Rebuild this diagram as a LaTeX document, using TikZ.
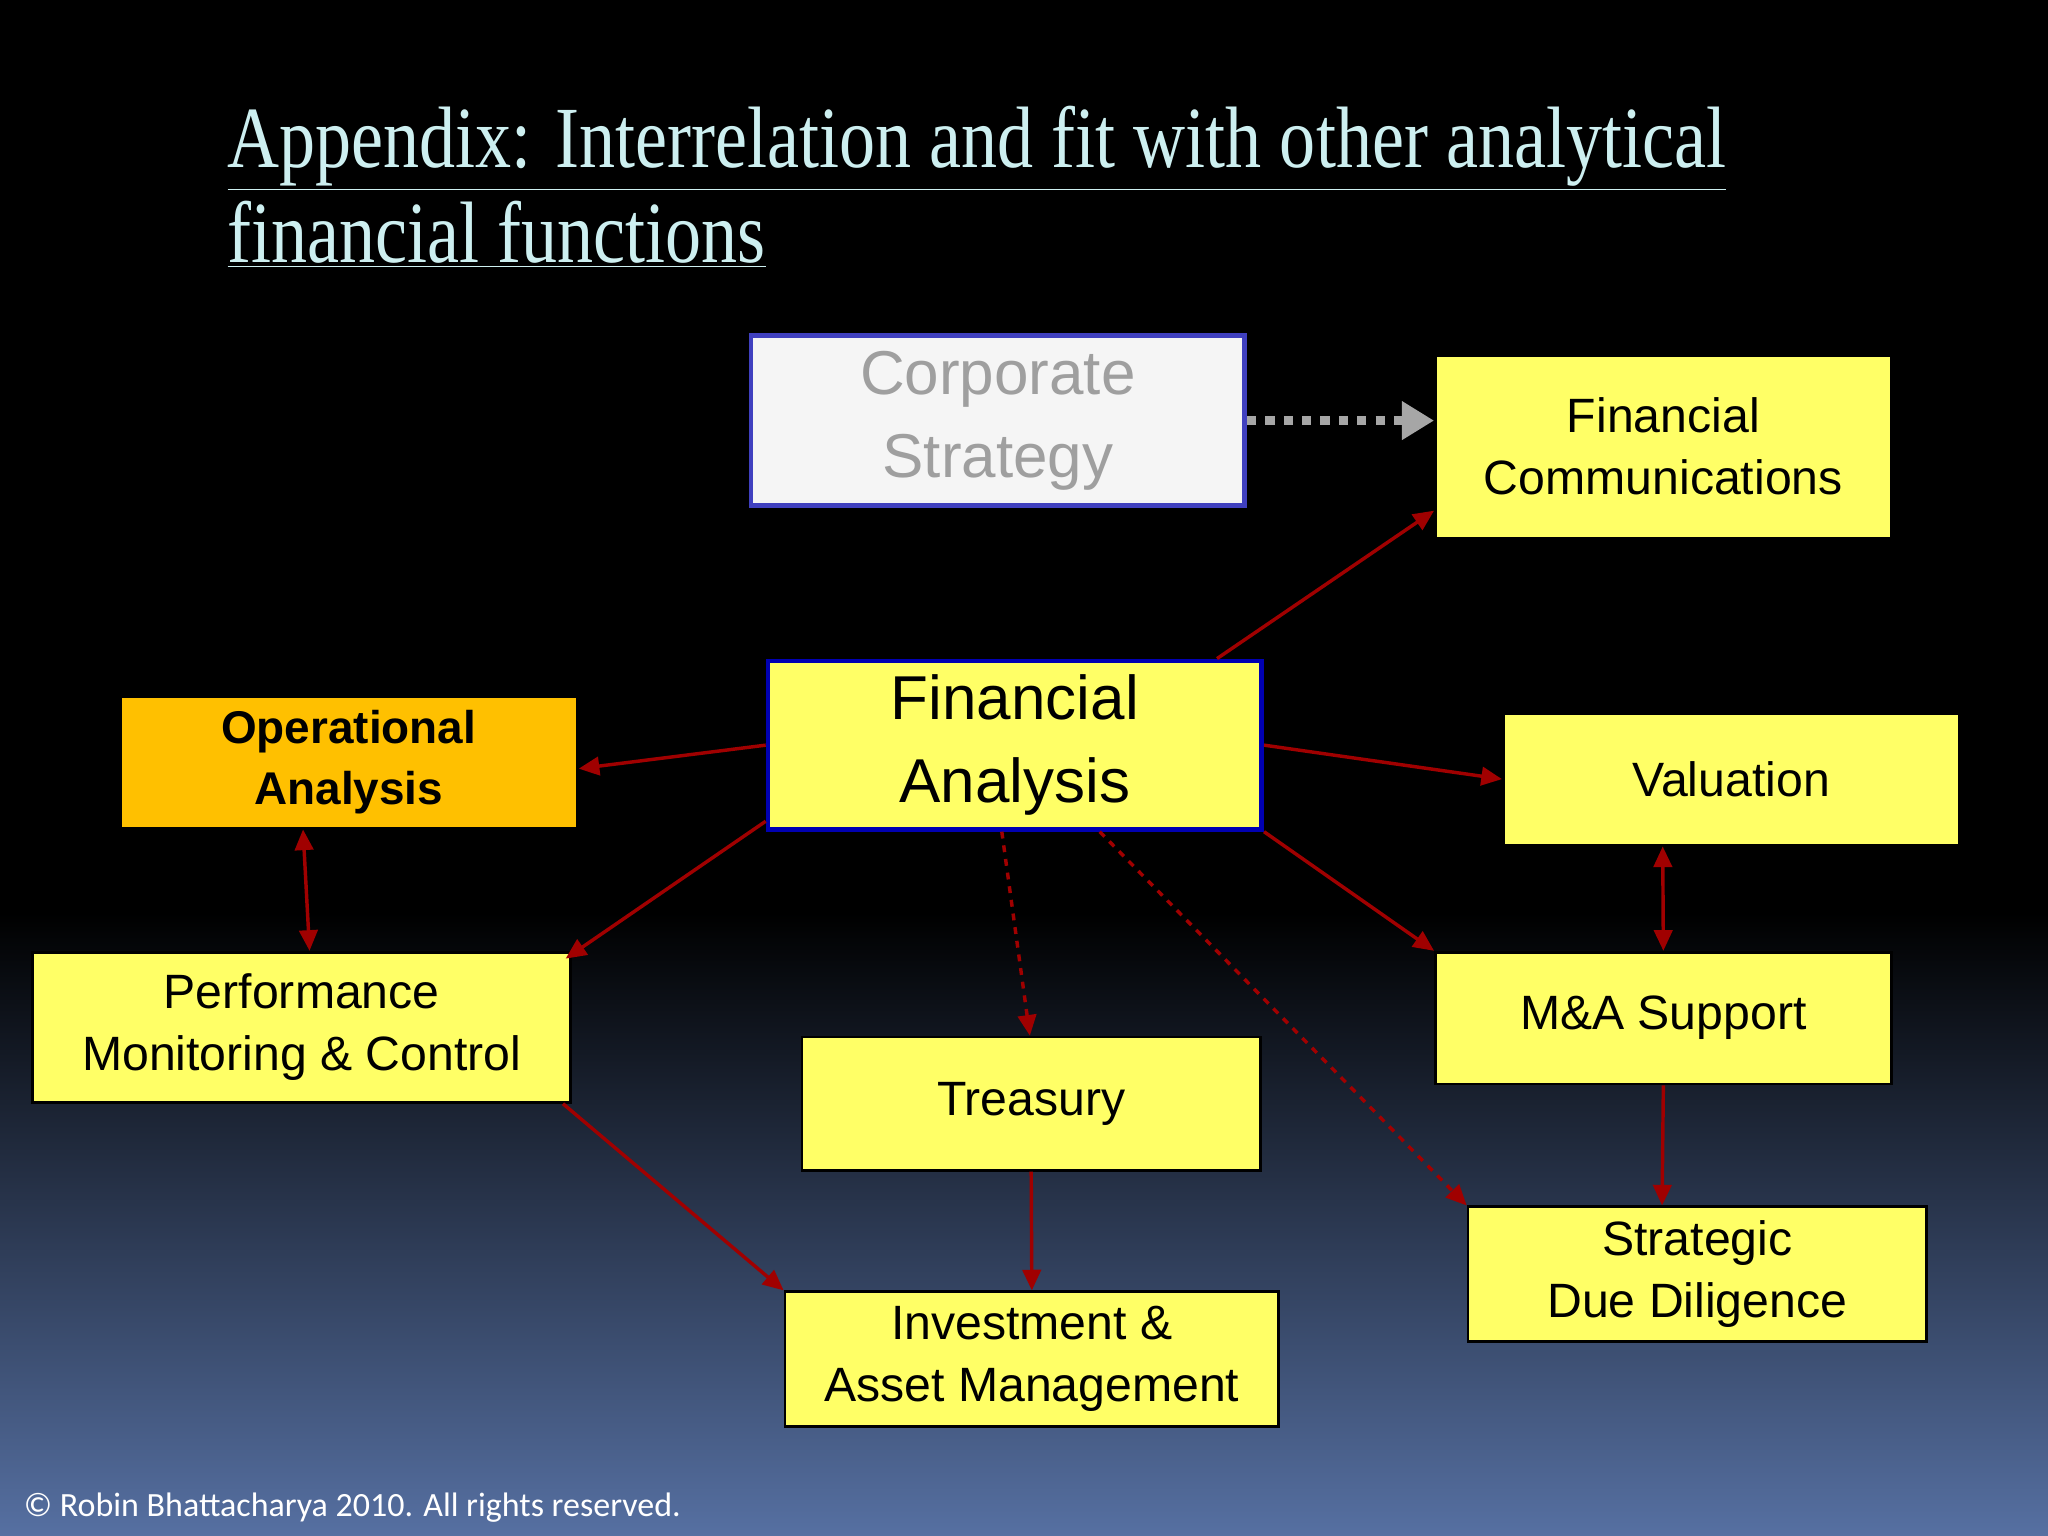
\documentclass[tikz,border=0pt]{standalone}
\usepackage{fontspec}
\setmainfont{Liberation Sans}
\newfontfamily\titlefont{Liberation Serif}
\newfontfamily\footfont{Carlito}
\usetikzlibrary{arrows.meta}
\definecolor{ybox}{HTML}{FFFF66}
\definecolor{obox}{HTML}{FFC000}
\definecolor{arr}{HTML}{A00000}
\definecolor{ttl}{HTML}{CDEFF0}
\definecolor{bgb}{HTML}{5670A2}
\tikzset{
 box/.style={draw=black,line width=1.2pt,fill=ybox,align=center,inner sep=0pt,font=\fontsize{21}{27}\selectfont},
 conn/.style={draw=arr,line width=1.5pt,-{Triangle[length=9pt,width=8pt]}},
 bconn/.style={conn,{Triangle[length=9pt,width=8pt]}-{Triangle[length=9pt,width=8pt]}},
 dconn/.style={conn,dashed}
}
\newcommand{\bx}[6]{\node[box,#6,minimum width={(#3-#1)*0.02cm},minimum height={(#4-#2)*0.02cm}] (#5) at ({(#1+#3)/2},{(#2+#4)/2})}
\begin{document}
\begin{tikzpicture}[x=0.02cm,y=-0.02cm]
\useasboundingbox (0,0) rectangle (1568,1176);
\fill[black] (0,0) rectangle (1568,700);
\shade[top color=black,bottom color=bgb] (0,699) rectangle (1568,1176);
\node[anchor=base west,text=ttl,inner sep=0pt,align=left] (title) at (174,128) {\titlefont\fontsize{38}{0}\selectfont\scalebox{0.826}[1]{\underline{Appendix: Interrelation and fit with other analytical}}};
\node[anchor=base west,text=ttl,inner sep=0pt,align=left] (title2) at (174,201) {\titlefont\fontsize{38}{0}\selectfont\scalebox{0.826}[1]{\underline{financial functions}}};
\bx{575}{257}{953}{387}{cs}{fill=gray!8,draw=blue!50!gray,line width=2pt,text=gray!75,font=\fontsize{27}{36}\selectfont} {Corporate\\Strategy};
\bx{1099}{272}{1448}{412}{fc}{} {Financial\\Communications};
\bx{588}{506}{966}{635}{fa}{draw=blue!70!black,line width=2pt,font=\fontsize{27}{36}\selectfont} {Financial\\Analysis};
\bx{92}{533}{442}{634}{oa}{fill=obox,font=\fontsize{20}{27}\selectfont\bfseries} {Operational\\Analysis};
\bx{1151}{546}{1500}{647}{val}{} {Valuation};
\bx{25}{729}{437}{844}{pmc}{} {Performance\\Monitoring \& Control};
\bx{1099}{729}{1448}{830}{ma}{} {M\&A Support};
\bx{614}{794}{965}{896}{tr}{} {Treasury};
\bx{1124}{924}{1475}{1027}{sdd}{} {Strategic\\Due Diligence};
\bx{601}{989}{979}{1092}{iam}{} {Investment \&\\Asset Management};
\draw[gray!70,line width=4pt,dash pattern=on 4pt off 4pt,-{Triangle[length=14pt,width=16pt]}] (cs.east) -- (fc.west |- cs.east);
\draw[conn] ([xshift=-0.72cm]fa.north east) -- ([yshift=-0.98cm]fc.west);
\draw[conn] (fa.west) -- ([yshift=-0.1cm]oa.east);
\draw[conn] (fa.east) -- (val.west);
\draw[conn] ([yshift=0.16cm]fa.south west) -- ([xshift=-0.1cm,yshift=-0.12cm]pmc.north east);
\draw[dconn] ([xshift=-0.2cm]fa.south) -- ([xshift=-0.02cm]tr.north);
\draw[dconn] ([xshift=1.3cm]fa.south) -- (sdd.north west);
\draw[conn] (fa.south east) -- (ma.north west);
\draw[bconn] ([xshift=-0.7cm]oa.south) -- ([xshift=0.12cm]pmc.north);
\draw[bconn] ([xshift=-1.05cm]val.south) -- (ma.north);
\draw[conn] (ma.south) -- ([xshift=-0.54cm]sdd.north);
\draw[conn] ([xshift=-0.14cm]pmc.south east) -- (iam.north west);
\draw[conn] (tr.south) -- (iam.north);
\node[anchor=base west,text=white,inner sep=0pt] (foot) at (18,1161) {\footfont\fontsize{14.8}{0}\selectfont © Robin Bhattacharya 2010. All rights reserved.};
\end{tikzpicture}
\end{document}
